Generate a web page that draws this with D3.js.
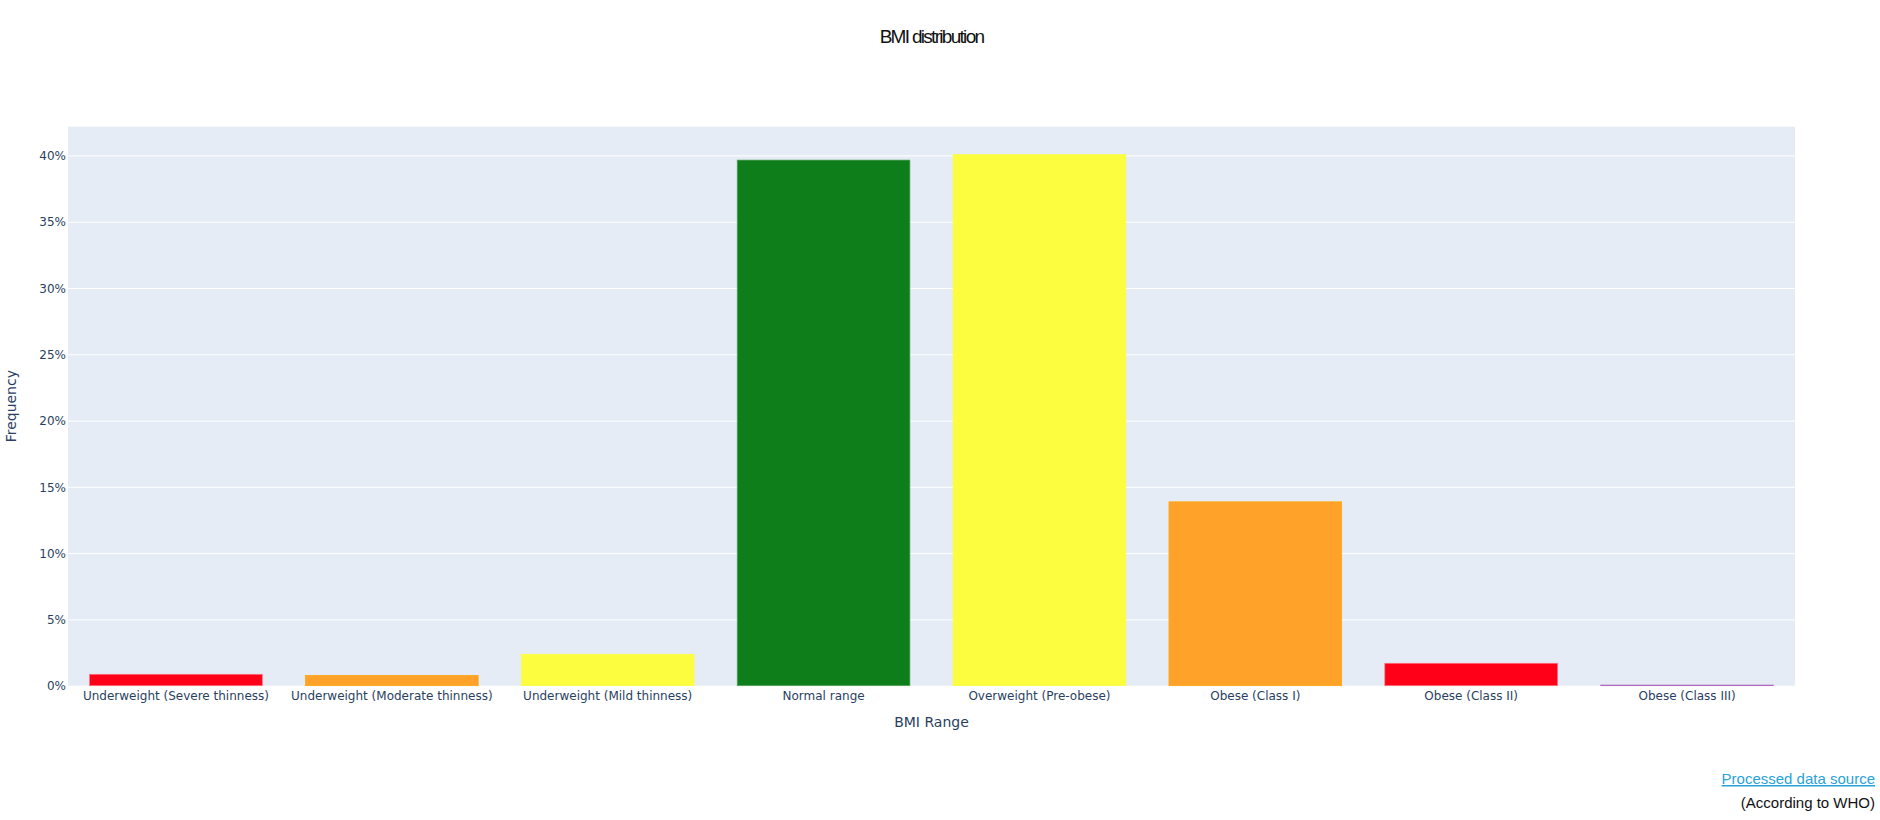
<!DOCTYPE html>
<html>
<head>
<meta charset="utf-8">
<script src="https://cdn.jsdelivr.net/npm/d3@7"></script>
<style>
  body { margin: 0; background: #fff; }
  svg { display: block; }
</style>
</head>
<body>
<script>
// BMI categories and their share (percent)
var categories = [
  'Underweight (Severe thinness)',
  'Underweight (Moderate thinness)',
  'Underweight (Mild thinness)',
  'Normal range',
  'Overweight (Pre-obese)',
  'Obese (Class I)',
  'Obese (Class II)',
  'Obese (Class III)'
];
var frequency = [0.86, 0.78, 2.37, 39.65, 40.06, 13.87, 1.69, 0.05];
var barColors = ['#ff0018', '#ffa22a', '#fdfd3f', '#0e7e1a', '#fdfd3f', '#ffa22a', '#ff0018', '#a855b5'];
var edgeColors = ['#ff6f80', '#ffa500', '#fdfd3f', '#5aa35f', '#fdfd3f', '#ffa500', '#ff6f80', '#b06cc0'];
var yTicks = [0, 5, 10, 15, 20, 25, 30, 35, 40];

var width  = 1880;
var height = 820;
var margin = {
  top   : 126.7,
  bottom: 134.3,
  left  : 68,
  right : 85
};
var plotW = width - margin.left - margin.right;
var plotH = height - margin.top - margin.bottom;

var svg = d3.select('body')
  .append('svg')
    .attr('width' , width)
    .attr('height', height);

var chartGroup = svg
  .append('g')
    .attr('transform', 'translate(' + margin.left + ',' + margin.top + ')');

chartGroup.append('rect')
    .attr('width', plotW)
    .attr('height', plotH)
    .attr('fill', '#e5ecf6');

var xScale = d3.scaleBand()
    .domain(categories)
    .range([0, plotW])
    .paddingInner(0.2)
    .paddingOuter(0.1);

var yScale = d3.scaleLinear()
    .domain([0, d3.max(frequency) * 1.0526])
    .range([plotH, 0]);

// gridlines
var yAxis = d3.axisLeft(yScale)
    .tickValues(yTicks)
    .tickSize(-plotW)
    .tickFormat(function (d) { return d + '%'; });

var yAxisG = chartGroup.append('g')
    .attr('class', 'y axis')
    .call(yAxis);
yAxisG.select('.domain').remove();
yAxisG.selectAll('.tick line')
    .attr('stroke', '#fff')
    .attr('stroke-width', 1)
    .filter(function (d) { return d === 0; }).remove();
yAxisG.selectAll('.tick text')
    .attr('x', -2)
    .attr('dy', '0.35em')
    .style('font-family', '"DejaVu Sans", Verdana, sans-serif')
    .style('font-size', '12px')
    .attr('fill', '#2a3f5f');

// bars
chartGroup.selectAll('.bar')
    .data(frequency)
  .enter().append('rect')
    .attr('class', 'bar')
    .attr('x', function (d, i) { return xScale(categories[i]); })
    .attr('width', xScale.bandwidth())
    .attr('y', function (d) { return yScale(d); })
    .attr('height', function (d) { return plotH - yScale(d); })
    .attr('fill', function (d, i) { return barColors[i]; })
    .attr('stroke', function (d, i) { return edgeColors[i]; })
    .attr('stroke-width', 0.7);

var xAxis = d3.axisBottom(xScale).tickSize(0);
var xAxisG = chartGroup.append('g')
    .attr('class', 'x axis')
    .attr('transform', 'translate(0,' + plotH + ')')
    .call(xAxis);
xAxisG.select('.domain').remove();
xAxisG.selectAll('.tick text')
    .attr('y', 14)
    .attr('dy', 0)
    .style('font-family', '"DejaVu Sans", Verdana, sans-serif')
    .style('font-size', '12px')
    .attr('fill', '#2a3f5f');

// axis titles
chartGroup.append('text')
    .attr('x', plotW / 2)
    .attr('y', plotH + 41)
    .attr('text-anchor', 'middle')
    .style('font-family', '"DejaVu Sans", Verdana, sans-serif')
    .style('font-size', '14px')
    .attr('fill', '#2a3f5f')
    .text('BMI Range');

svg.append('text')
    .attr('transform', 'translate(16,' + (margin.top + plotH / 2) + ') rotate(-90)')
    .attr('text-anchor', 'middle')
    .style('font-family', '"DejaVu Sans", Verdana, sans-serif')
    .style('font-size', '14px')
    .attr('fill', '#2a3f5f')
    .text('Frequency');

// chart title
svg.append('text')
    .attr('x', margin.left + plotW / 2)
    .attr('y', 43)
    .attr('text-anchor', 'middle')
    .style('font-family', '"Liberation Sans", Arial, sans-serif')
    .style('font-size', '19px')
    .style('letter-spacing', '-1.7px')
    .attr('fill', '#111')
    .text('BMI distribution');

// source notes
svg.append('text')
    .attr('x', 1875)
    .attr('y', 784)
    .attr('text-anchor', 'end')
    .style('font-family', '"Liberation Sans", Arial, sans-serif')
    .style('font-size', '15px')
    .style('text-decoration', 'underline')
    .attr('fill', '#29a3d6')
    .text('Processed data source');

svg.append('text')
    .attr('x', 1875)
    .attr('y', 808)
    .attr('text-anchor', 'end')
    .style('font-family', '"Liberation Sans", Arial, sans-serif')
    .style('font-size', '15px')
    .attr('fill', '#111')
    .text('(According to WHO)');
</script>
</body>
</html>
